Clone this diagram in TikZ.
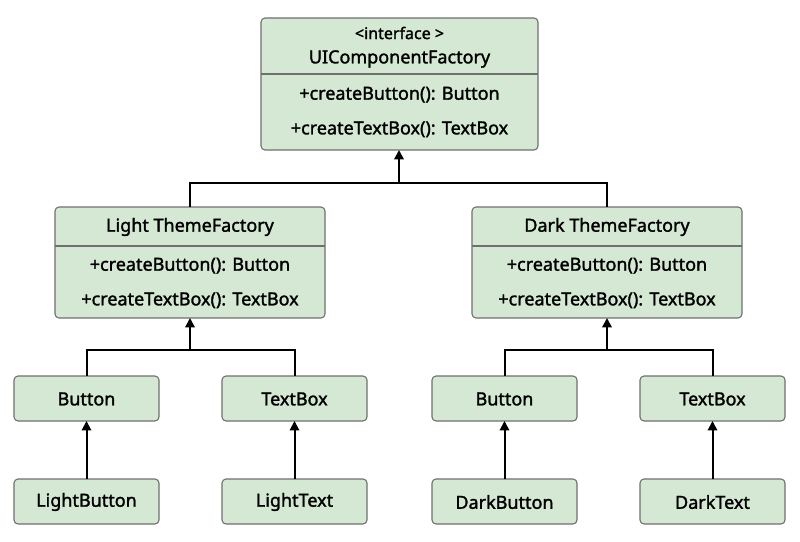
\documentclass[tikz,border=0pt]{standalone}
\usepackage{fontspec}
\setmainfont{Noto Sans}[FakeBold=1.6]
\usetikzlibrary{arrows.meta}
\definecolor{boxfill}{HTML}{D5E8D4}
\definecolor{boxdraw}{HTML}{6F6F6F}
\begin{document}
\begin{tikzpicture}[x=0.75pt,y=-0.75pt,
  box/.style={draw=boxdraw,fill=boxfill,rounded corners=3pt,line width=0.8pt},
  txt/.style={font=\fontsize{13.5}{16}\selectfont\bfseries,inner sep=0pt},
  conn/.style={line width=1.5pt,-{Triangle[length=7pt,width=7pt]}},
  line/.style={line width=1.5pt}]
\useasboundingbox (0,0) rectangle (800,542);
% top
\draw[box] (261,18) rectangle (538,150);
\draw[boxdraw,line width=0.8pt] (261,74) -- (538,74);
\node[txt,font=\fontsize{12}{14}\selectfont] (ti) at (399.5,33) {<interface >};
\node[txt] (tn) at (399.5,59) {UIComponentFactory};
\node[txt,align=center,font=\fontsize{13.5}{26}\selectfont\bfseries] (tm) at (399.5,112) {+createButton(): Button\\+createTextBox(): TextBox};
\coordinate (top) at (399,150);
% light/dark factories
\foreach \n/\x/\t in {lf/55/Light ThemeFactory,df/472/Dark ThemeFactory}{
  \draw[box] (\x,207) rectangle ++(270,111);
  \draw[boxdraw,line width=0.8pt] (\x,246) -- ++(270,0);
  \node[txt] (\n) at (\x+135,227) {\t};
  \node[txt,align=center,font=\fontsize{13.5}{26}\selectfont\bfseries] (\n m) at (\x+135,283) {+createButton(): Button\\+createTextBox(): TextBox};
}
\coordinate (lft) at (190,207);
\coordinate (dft) at (607,207);
\coordinate (lfb) at (190,318);
\coordinate (dfb) at (607,318);
\draw[line] (lft) |- (399,183) -| (dft);
\draw[conn] (399,183) -- (top);
% small boxes
\foreach \n/\x/\t in {b1/14/Button,t1/222/TextBox,b2/432/Button,t2/640/TextBox}{
  \draw[box] (\x,376) rectangle ++(145,45);
  \node[txt] (\n) at (\x+72.5,399) {\t};
  \coordinate (\n t) at (\x+72.5,376);
  \coordinate (\n b) at (\x+72.5,421);
}
\foreach \n/\x/\t in {lb/14/LightButton,lt/222/LightText,db/432/DarkButton,dt/640/DarkText}{
  \draw[box] (\x,479) rectangle ++(145,45);
  \node[txt] (\n) at (\x+72.5,502) {\t};
  \coordinate (\n t) at (\x+72.5,479);
}
\draw[line] (b1t) |- (190,350) -| (t1t);
\draw[conn] (190,350) -- (lfb);
\draw[line] (b2t) |- (607,350) -| (t2t);
\draw[conn] (607,350) -- (dfb);
\draw[conn] (lbt) -- (b1b);
\draw[conn] (ltt) -- (t1b);
\draw[conn] (dbt) -- (b2b);
\draw[conn] (dtt) -- (t2b);
\end{tikzpicture}
\end{document}
